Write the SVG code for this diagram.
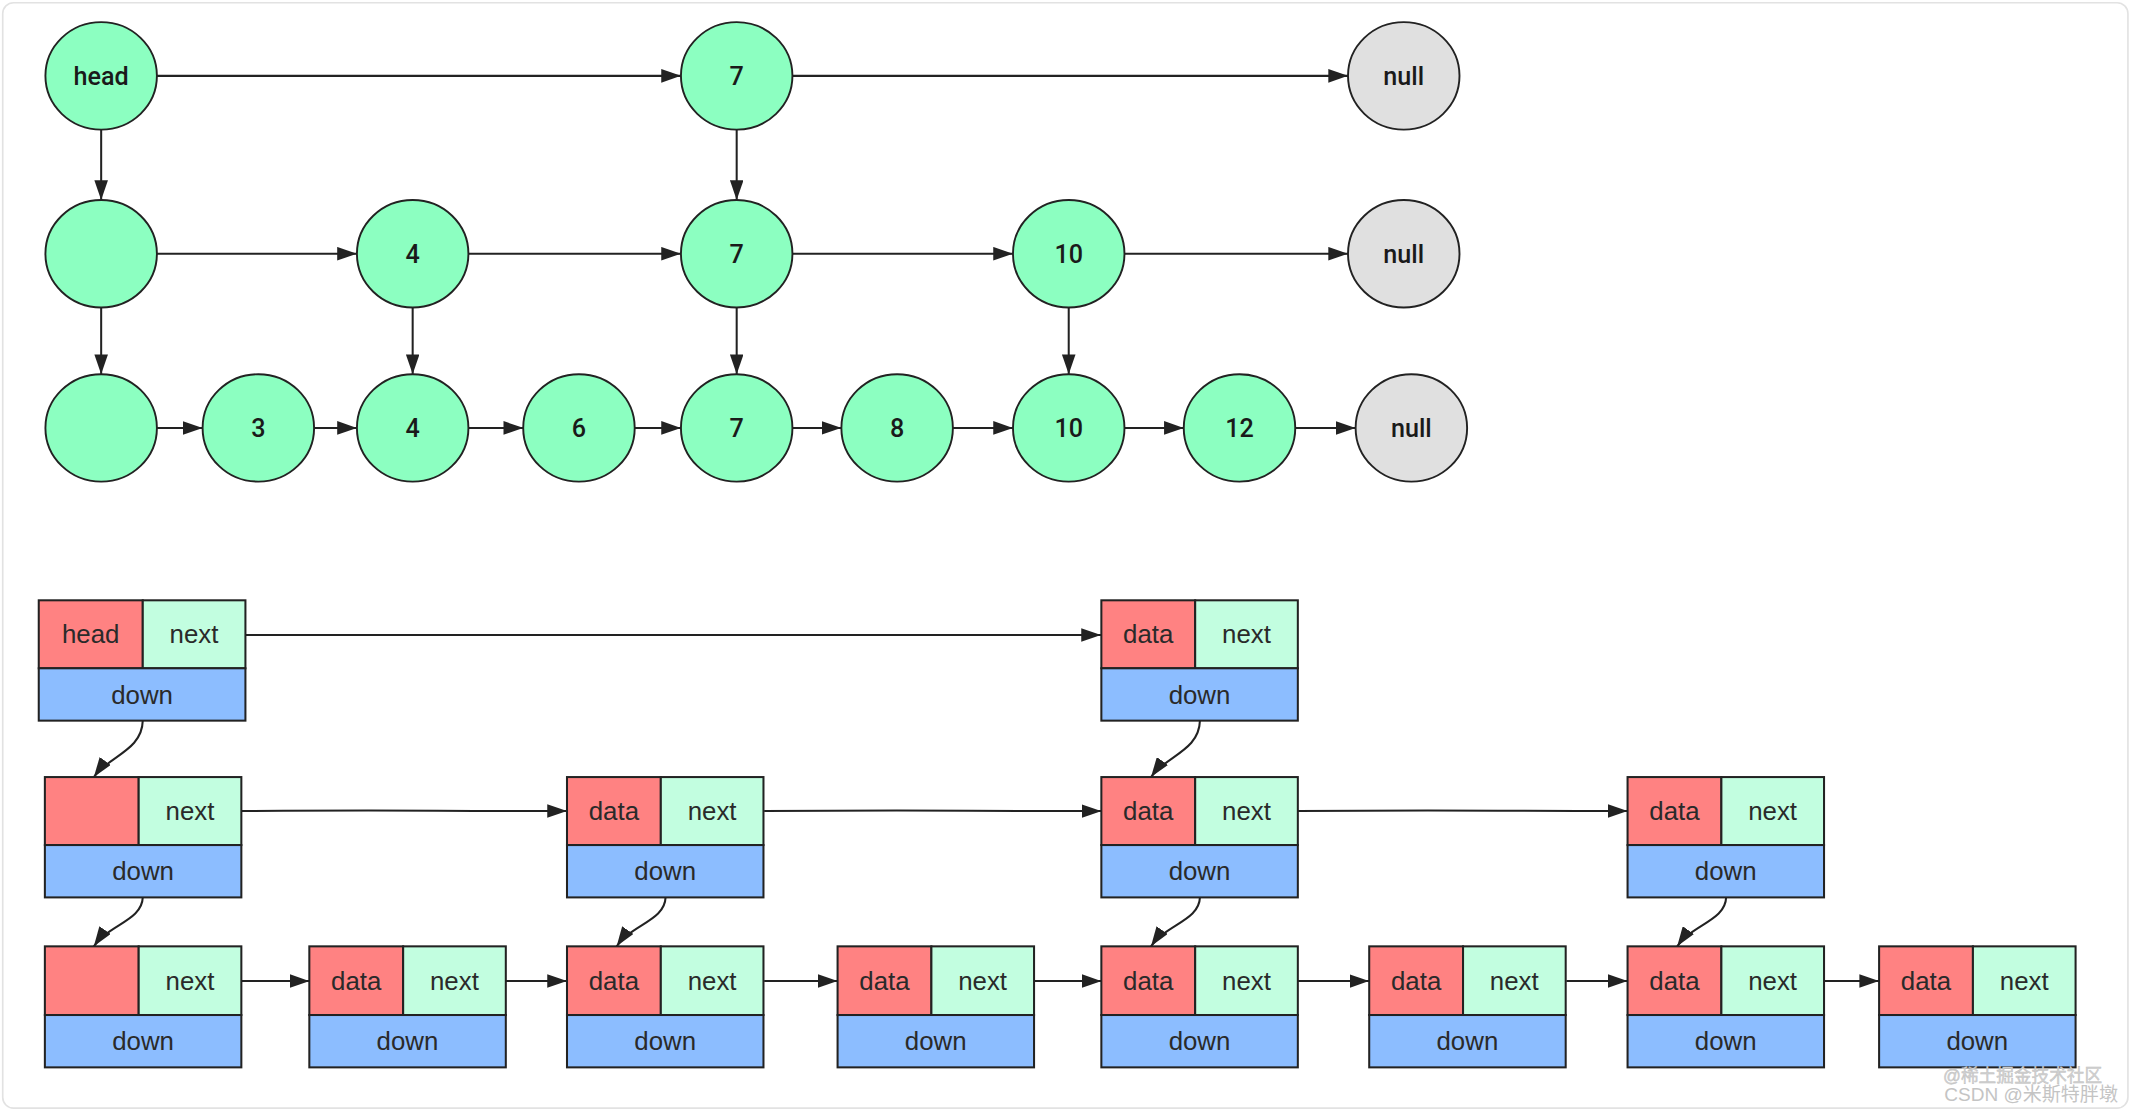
<svg xmlns="http://www.w3.org/2000/svg" width="2132" height="1112" viewBox="0 0 2132 1112">
<defs>
<style>
.el{fill:#8cffc1;stroke:#222;stroke-width:1.4}
.nul{fill:#e0e0e0;stroke:#222;stroke-width:1.4}
.lt{font-family:Roboto,"Liberation Sans",Arial,sans-serif;font-size:18.5px;font-weight:500;fill:#1a1a1a;text-anchor:middle}
.c{stroke:#222;stroke-width:1.5;fill:none;marker-end:url(#ah)}
.r{fill:#ff8282;stroke:#222;stroke-width:1.5}
.g{fill:#c2fee0;stroke:#222;stroke-width:1.5}
.b{fill:#8cbdff;stroke:#222;stroke-width:1.5}
.bt{font-family:"Liberation Sans",Arial,sans-serif;font-size:19px;fill:#2a2a2a;text-anchor:middle}
.wm{font-family:"Liberation Sans","Noto Sans CJK SC",sans-serif}
</style>
<marker id="ah" markerUnits="userSpaceOnUse" markerWidth="14.5" markerHeight="10" refX="14.5" refY="5" orient="auto" viewBox="0 0 14.5 10">
<path d="M0,0 L14.5,5 L0,10 Z" fill="#222"/>
</marker>
</defs>
<rect x="0" y="0" width="2132" height="1112" fill="#ffffff"/>
<g transform="scale(1.3597)">
<rect x="2" y="2" width="1563" height="813" rx="8" fill="#ffffff" stroke="#e2e2e2" stroke-width="1.2"/>

<g id="connectors">
<path class="c" d="M115.4,55.8 H500.8"/>
<path class="c" d="M582.8,55.8 H991.4"/>
<path class="c" d="M115.4,186.6 H262.5"/>
<path class="c" d="M344.5,186.6 H500.8"/>
<path class="c" d="M582.8,186.6 H745"/>
<path class="c" d="M827,186.6 H991.4"/>
<path class="c" d="M115.4,314.7 H149"/>
<path class="c" d="M231,314.7 H262.5"/>
<path class="c" d="M344.5,314.7 H384.8"/>
<path class="c" d="M466.8,314.7 H500.8"/>
<path class="c" d="M582.8,314.7 H618.8"/>
<path class="c" d="M700.8,314.7 H745"/>
<path class="c" d="M827,314.7 H870.6"/>
<path class="c" d="M952.6,314.7 H997"/>
<path class="c" d="M74.4,95.3 V147.1"/>
<path class="c" d="M74.4,226.1 V275.2"/>
<path class="c" d="M303.5,226.1 V275.2"/>
<path class="c" d="M541.8,95.3 V147.1"/>
<path class="c" d="M541.8,226.1 V275.2"/>
<path class="c" d="M786,226.1 V275.2"/>
<path class="c" d="M180.5,467 H809.7"/>
<path class="c" d="M177.5,596.5 C300,595.5 300,596.5 417,596.5"/>
<path class="c" d="M562,596.5 C690,595.5 690,596.5 810,596.5"/>
<path class="c" d="M954.5,596.5 C1080,595.5 1080,596.5 1197,596.5"/>
<path class="c" d="M177.5,721.5 H227.5"/>
<path class="c" d="M372,721.5 H417"/>
<path class="c" d="M562,721.5 H616"/>
<path class="c" d="M760.5,721.5 H810"/>
<path class="c" d="M954.5,721.5 H1007"/>
<path class="c" d="M1152,721.5 H1197"/>
<path class="c" d="M1341.5,721.5 H1382"/>
<path class="c" d="M105,530 C104.5,552 80,556 69,571.5"/>
<path class="c" d="M882.5,530 C882,552 857.5,556 846.5,571.5"/>
<path class="c" d="M105,660 C104.5,677 80,680 69,696"/>
<path class="c" d="M489.5,660 C489,677 464.5,680 453.5,696"/>
<path class="c" d="M882.5,660 C882,677 857.5,680 846.5,696"/>
<path class="c" d="M1269.5,660 C1269,677 1244.5,680 1233.5,696"/>
</g>

<g id="t-head"><ellipse class="el" cx="74.4" cy="55.8" rx="41" ry="39.5"/><text class="lt" x="74.4" y="62.3">head</text></g>
<g id="t-7a"><ellipse class="el" cx="541.8" cy="55.8" rx="41" ry="39.5"/><text class="lt" x="541.8" y="62.3">7</text></g>
<g id="t-nullA"><ellipse class="nul" cx="1032.4" cy="55.8" rx="41" ry="39.5"/><text class="lt" x="1032.4" y="62.3">null</text></g>

<g id="t-l2"><ellipse class="el" cx="74.4" cy="186.6" rx="41" ry="39.5"/></g>
<g id="t-4a"><ellipse class="el" cx="303.5" cy="186.6" rx="41" ry="39.5"/><text class="lt" x="303.5" y="193.1">4</text></g>
<g id="t-7b"><ellipse class="el" cx="541.8" cy="186.6" rx="41" ry="39.5"/><text class="lt" x="541.8" y="193.1">7</text></g>
<g id="t-10a"><ellipse class="el" cx="786" cy="186.6" rx="41" ry="39.5"/><text class="lt" x="786" y="193.1">10</text></g>
<g id="t-nullB"><ellipse class="nul" cx="1032.4" cy="186.6" rx="41" ry="39.5"/><text class="lt" x="1032.4" y="193.1">null</text></g>

<g id="t-l3"><ellipse class="el" cx="74.4" cy="314.7" rx="41" ry="39.5"/></g>
<g id="t-3"><ellipse class="el" cx="190" cy="314.7" rx="41" ry="39.5"/><text class="lt" x="190" y="321.2">3</text></g>
<g id="t-4b"><ellipse class="el" cx="303.5" cy="314.7" rx="41" ry="39.5"/><text class="lt" x="303.5" y="321.2">4</text></g>
<g id="t-6"><ellipse class="el" cx="425.8" cy="314.7" rx="41" ry="39.5"/><text class="lt" x="425.8" y="321.2">6</text></g>
<g id="t-7c"><ellipse class="el" cx="541.8" cy="314.7" rx="41" ry="39.5"/><text class="lt" x="541.8" y="321.2">7</text></g>
<g id="t-8"><ellipse class="el" cx="659.8" cy="314.7" rx="41" ry="39.5"/><text class="lt" x="659.8" y="321.2">8</text></g>
<g id="t-10b"><ellipse class="el" cx="786" cy="314.7" rx="41" ry="39.5"/><text class="lt" x="786" y="321.2">10</text></g>
<g id="t-12"><ellipse class="el" cx="911.6" cy="314.7" rx="41" ry="39.5"/><text class="lt" x="911.6" y="321.2">12</text></g>
<g id="t-nullC"><ellipse class="nul" cx="1038" cy="314.7" rx="41" ry="39.5"/><text class="lt" x="1038" y="321.2">null</text></g>

<g id="b-head" transform="translate(28.5,441.5)">
<rect class="r" x="0" y="0" width="76.5" height="50"/><rect class="g" x="76.5" y="0" width="75.5" height="50"/><rect class="b" x="0" y="50" width="152" height="38.5"/>
<text class="bt" x="38.2" y="31.7">head</text><text class="bt" x="114.2" y="31.7">next</text><text class="bt" x="76" y="76">down</text>
</g>
<g id="b-r1-7" transform="translate(810,441.5)">
<rect class="r" x="0" y="0" width="69" height="50"/><rect class="g" x="69" y="0" width="75.5" height="50"/><rect class="b" x="0" y="50" width="144.5" height="38.5"/>
<text class="bt" x="34.5" y="31.7">data</text><text class="bt" x="106.7" y="31.7">next</text><text class="bt" x="72.2" y="76">down</text>
</g>

<g id="b-r2-0" transform="translate(33,571.5)">
<rect class="r" x="0" y="0" width="69" height="50"/><rect class="g" x="69" y="0" width="75.5" height="50"/><rect class="b" x="0" y="50" width="144.5" height="38.5"/>
<text class="bt" x="106.7" y="31.7">next</text><text class="bt" x="72.2" y="76">down</text>
</g>
<g id="b-r2-4" transform="translate(417,571.5)">
<rect class="r" x="0" y="0" width="69" height="50"/><rect class="g" x="69" y="0" width="75.5" height="50"/><rect class="b" x="0" y="50" width="144.5" height="38.5"/>
<text class="bt" x="34.5" y="31.7">data</text><text class="bt" x="106.7" y="31.7">next</text><text class="bt" x="72.2" y="76">down</text>
</g>
<g id="b-r2-7" transform="translate(810,571.5)">
<rect class="r" x="0" y="0" width="69" height="50"/><rect class="g" x="69" y="0" width="75.5" height="50"/><rect class="b" x="0" y="50" width="144.5" height="38.5"/>
<text class="bt" x="34.5" y="31.7">data</text><text class="bt" x="106.7" y="31.7">next</text><text class="bt" x="72.2" y="76">down</text>
</g>
<g id="b-r2-10" transform="translate(1197,571.5)">
<rect class="r" x="0" y="0" width="69" height="50"/><rect class="g" x="69" y="0" width="75.5" height="50"/><rect class="b" x="0" y="50" width="144.5" height="38.5"/>
<text class="bt" x="34.5" y="31.7">data</text><text class="bt" x="106.7" y="31.7">next</text><text class="bt" x="72.2" y="76">down</text>
</g>

<g id="b-r3-0" transform="translate(33,696)">
<rect class="r" x="0" y="0" width="69" height="50.5"/><rect class="g" x="69" y="0" width="75.5" height="50.5"/><rect class="b" x="0" y="50.5" width="144.5" height="38.5"/>
<text class="bt" x="106.7" y="32">next</text><text class="bt" x="72.2" y="76.5">down</text>
</g>
<g id="b-r3-3" transform="translate(227.5,696)">
<rect class="r" x="0" y="0" width="69" height="50.5"/><rect class="g" x="69" y="0" width="75.5" height="50.5"/><rect class="b" x="0" y="50.5" width="144.5" height="38.5"/>
<text class="bt" x="34.5" y="32">data</text><text class="bt" x="106.7" y="32">next</text><text class="bt" x="72.2" y="76.5">down</text>
</g>
<g id="b-r3-4" transform="translate(417,696)">
<rect class="r" x="0" y="0" width="69" height="50.5"/><rect class="g" x="69" y="0" width="75.5" height="50.5"/><rect class="b" x="0" y="50.5" width="144.5" height="38.5"/>
<text class="bt" x="34.5" y="32">data</text><text class="bt" x="106.7" y="32">next</text><text class="bt" x="72.2" y="76.5">down</text>
</g>
<g id="b-r3-6" transform="translate(616,696)">
<rect class="r" x="0" y="0" width="69" height="50.5"/><rect class="g" x="69" y="0" width="75.5" height="50.5"/><rect class="b" x="0" y="50.5" width="144.5" height="38.5"/>
<text class="bt" x="34.5" y="32">data</text><text class="bt" x="106.7" y="32">next</text><text class="bt" x="72.2" y="76.5">down</text>
</g>
<g id="b-r3-7" transform="translate(810,696)">
<rect class="r" x="0" y="0" width="69" height="50.5"/><rect class="g" x="69" y="0" width="75.5" height="50.5"/><rect class="b" x="0" y="50.5" width="144.5" height="38.5"/>
<text class="bt" x="34.5" y="32">data</text><text class="bt" x="106.7" y="32">next</text><text class="bt" x="72.2" y="76.5">down</text>
</g>
<g id="b-r3-8" transform="translate(1007,696)">
<rect class="r" x="0" y="0" width="69" height="50.5"/><rect class="g" x="69" y="0" width="75.5" height="50.5"/><rect class="b" x="0" y="50.5" width="144.5" height="38.5"/>
<text class="bt" x="34.5" y="32">data</text><text class="bt" x="106.7" y="32">next</text><text class="bt" x="72.2" y="76.5">down</text>
</g>
<g id="b-r3-10" transform="translate(1197,696)">
<rect class="r" x="0" y="0" width="69" height="50.5"/><rect class="g" x="69" y="0" width="75.5" height="50.5"/><rect class="b" x="0" y="50.5" width="144.5" height="38.5"/>
<text class="bt" x="34.5" y="32">data</text><text class="bt" x="106.7" y="32">next</text><text class="bt" x="72.2" y="76.5">down</text>
</g>
<g id="b-r3-12" transform="translate(1382,696)">
<rect class="r" x="0" y="0" width="69" height="50.5"/><rect class="g" x="69" y="0" width="75.5" height="50.5"/><rect class="b" x="0" y="50.5" width="144.5" height="38.5"/>
<text class="bt" x="34.5" y="32">data</text><text class="bt" x="106.7" y="32">next</text><text class="bt" x="72.2" y="76.5">down</text>
</g>

<g id="watermark">
<text class="wm" x="1429" y="796" font-size="13" fill="#d2d2d2" stroke="#bdbdbd" stroke-width="0.3">@稀土掘金技术社区</text>
<text class="wm" x="1430" y="810" font-size="14" fill="#c4c4c4">CSDN @米斯特胖墩</text>
</g>
</g>
</svg>
